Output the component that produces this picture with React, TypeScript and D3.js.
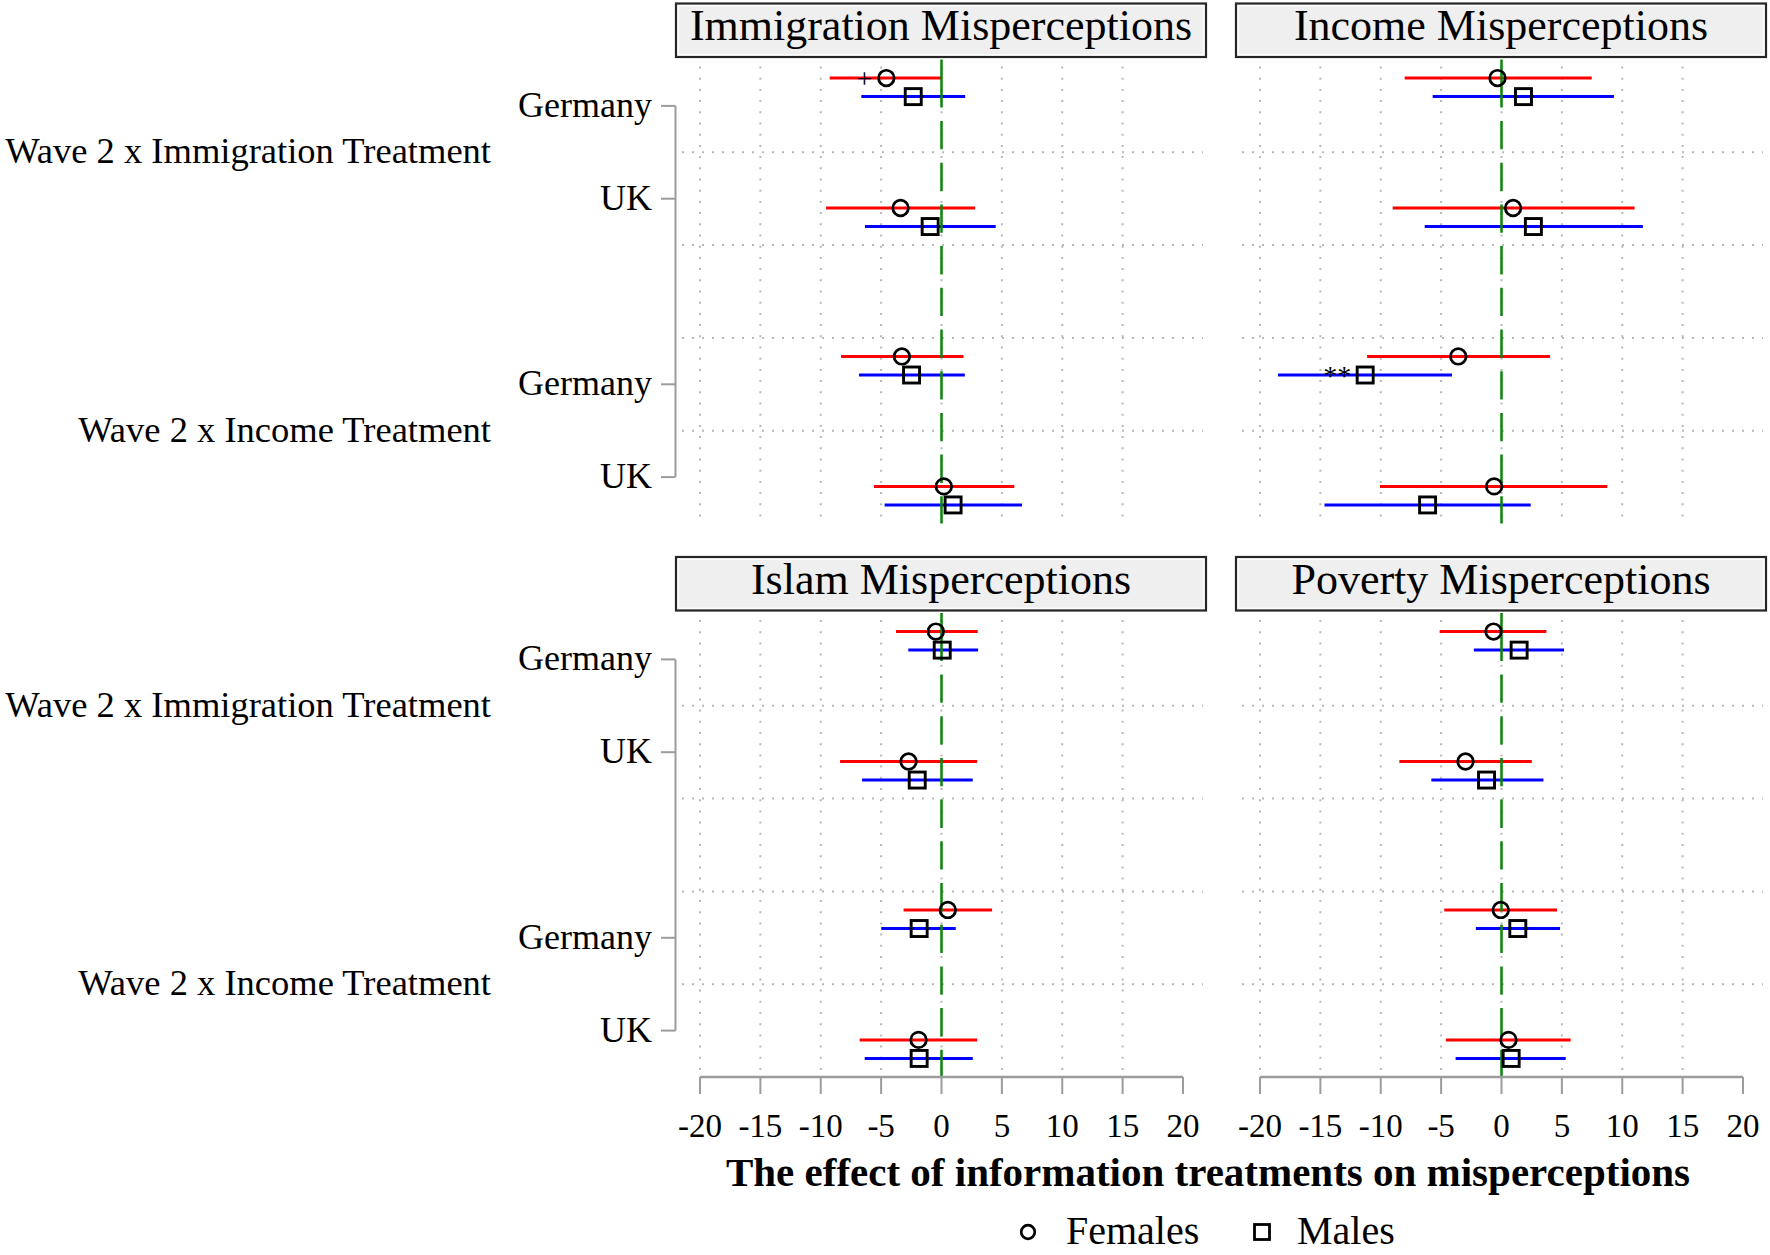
import * as d3 from "d3";
import React from "react";

// panel titles (outcomes), row groups and row labels
const outcomes = [
  "Immigration Misperceptions",
  "Income Misperceptions",
  "Islam Misperceptions",
  "Poverty Misperceptions",
];
const treatments = ["Wave 2 x Immigration Treatment", "Wave 2 x Income Treatment"];
const countries = ["Germany", "UK", "Germany", "UK"];
const xTicks = [-20, -15, -10, -5, 0, 5, 10, 15, 20];

// [estimate, lower, upper] for rows: Imm-Germany, Imm-UK, Inc-Germany, Inc-UK
const immigrationFemales = [[-4.57, -9.26, 0.05], [-3.39, -9.56, 2.78], [-3.28, -8.32, 1.82], [0.19, -5.59, 6.03]];
const immigrationMales = [[-2.34, -6.64, 1.96], [-0.94, -6.34, 4.49], [-2.48, -6.83, 1.93], [0.96, -4.71, 6.67]];
const incomeFemales = [[-0.33, -8.02, 7.47], [0.96, -9.01, 11.02], [-3.58, -11.13, 4.02], [-0.61, -10.06, 8.76]];
const incomeMales = [[1.82, -5.7, 9.31], [2.64, -6.36, 11.71], [-11.29, -18.51, -4.1], [-6.12, -14.66, 2.42]];
const islamFemales = [[-0.47, -3.77, 3.0], [-2.73, -8.4, 2.95], [0.52, -3.14, 4.19], [-1.9, -6.78, 2.95]];
const islamMales = [[0.06, -2.75, 3.03], [-2.01, -6.58, 2.59], [-1.85, -4.99, 1.18], [-1.85, -6.36, 2.59]];
const povertyFemales = [[-0.66, -5.12, 3.72], [-2.98, -8.46, 2.51], [-0.06, -4.74, 4.6], [0.58, -4.6, 5.73]];
const povertyMales = [[1.46, -2.29, 5.18], [-1.24, -5.81, 3.47], [1.35, -2.12, 4.85], [0.8, -3.8, 5.32]];

// significance labels
const immigrationFemaleStars = ["+", "", "", ""];
const incomeMaleStars = ["", "", "**", ""];
const noStars = ["", "", "", ""];

const femalesByPanel = [immigrationFemales, incomeFemales, islamFemales, povertyFemales];
const malesByPanel = [immigrationMales, incomeMales, islamMales, povertyMales];
const femaleStarsByPanel = [immigrationFemaleStars, noStars, noStars, noStars];
const maleStarsByPanel = [noStars, incomeMaleStars, noStars, noStars];

// layout
const W = 1770;
const H = 1255;
const FONT = "'Liberation Serif', 'Times New Roman', serif";
const panelX = [676, 1236];
const panelW = 530;
const stripTop = [3.5, 557];
const stripH = 53.5;
const plotH = 464;
const rowSlots = [1, 2, 4, 5];
const femaleOffset = [-0.3, 0.1, -0.3, 0.1];
const maleOffset = [-0.1, 0.3, -0.1, 0.3];
const gridGray = "#b8b8b8";
const axisGray = "#9c9c9c";

const greenDash = [48, 13.5, ...d3.range(10).flatMap(() => [28.3, 13.4])].join(" ");

function Panel({ p }: { p: number }) {
  const col = p % 2;
  const row = Math.floor(p / 2);
  const x0 = panelX[col];
  const sTop = stripTop[row];
  const plotTop = sTop + stripH + 2.5;
  const plotBottom = plotTop + plotH;

  const x = d3.scaleLinear().domain([-20, 20]).range([x0 + 24, x0 + 507]);
  const y = d3.scaleLinear().domain([0.5, 5.5]).range([plotTop, plotBottom]);

  const series = [
    { data: femalesByPanel[p], off: femaleOffset, color: "#ff0000", shape: "circle", stars: femaleStarsByPanel[p] },
    { data: malesByPanel[p], off: maleOffset, color: "#0000ff", shape: "square", stars: maleStarsByPanel[p] },
  ];

  return (
    <g>
      {/* strip */}
      <rect x={x0} y={sTop} width={panelW} height={stripH} fill="#efefef" stroke="#262626" strokeWidth={2.2} />
      <rect x={x0 + 2.2} y={sTop + 2.2} width={panelW - 4.4} height={stripH - 4.4} fill="none" stroke="#ffffff" strokeWidth={1.2} />
      <text x={x0 + panelW / 2} y={sTop + 36.5} textAnchor="middle" fontSize={44} fontFamily={FONT} fill="#000">
        {outcomes[p]}
      </text>

      {/* grid */}
      {xTicks.slice(0, -1).map((t) => (
        <line key={"v" + t} x1={x(t)} x2={x(t)} y1={plotTop + 7} y2={plotBottom}
          stroke={gridGray} strokeWidth={2} strokeDasharray="2 9.2" />
      ))}
      {[1.5, 2.5, 3.5, 4.5].map((s) => (
        <line key={"h" + s} x1={x0 + 6} x2={x0 + 527} y1={y(s)} y2={y(s)}
          stroke={gridGray} strokeWidth={2} strokeDasharray="2 8" />
      ))}

      {/* confidence intervals */}
      {series.map((s, si) =>
        s.data.map((d, i) => {
          const yy = y(rowSlots[i] + s.off[i]);
          return (
            <line key={"ci" + si + i} x1={x(d[1])} x2={x(d[2])} y1={yy} y2={yy} stroke={s.color} strokeWidth={3} />
          );
        })
      )}

      {/* zero line */}
      <line x1={x(0)} x2={x(0)} y1={plotTop} y2={plotBottom} stroke="#0a870a" strokeWidth={2.5} strokeDasharray={greenDash} />

      {/* markers */}
      {series.map((s, si) =>
        s.data.map((d, i) => {
          const yy = y(rowSlots[i] + s.off[i]);
          const xx = x(d[0]);
          return (
            <g key={"m" + si + i}>
              {s.shape === "circle" ? (
                <circle cx={xx} cy={yy} r={7.8} fill="none" stroke="#000" strokeWidth={2.7} />
              ) : (
                <rect x={xx - 8} y={yy - 8} width={16} height={16} fill="none" stroke="#000" strokeWidth={2.9} />
              )}
              {s.stars[i] && (
                <text x={xx - 14} y={yy + 10} textAnchor="end" fontSize={28} fontFamily={FONT} fill="#000">
                  {s.stars[i]}
                </text>
              )}
            </g>
          );
        })
      )}

      {/* y axis (left column only) */}
      {col === 0 && (
        <g>
          <line x1={x0 - 0.5} x2={x0 - 0.5} y1={y(rowSlots[0])} y2={y(rowSlots[3])} stroke={axisGray} strokeWidth={2} />
          {rowSlots.map((s, i) => (
            <g key={"yt" + i}>
              <line x1={x0 - 15} x2={x0 - 0.5} y1={y(s)} y2={y(s)} stroke={axisGray} strokeWidth={2} />
              <text x={x0 - 24} y={y(s) + 11} textAnchor="end" fontSize={36} fontFamily={FONT} fill="#000">
                {countries[i]}
              </text>
            </g>
          ))}
          {treatments.map((t, i) => (
            <text key={t} x={491} y={y(i === 0 ? 1.5 : 4.5) + 11} textAnchor="end" fontSize={36.5} fontFamily={FONT} fill="#000">
              {t}
            </text>
          ))}
        </g>
      )}

      {/* x axis (bottom row only) */}
      {row === 1 && (
        <g>
          <line x1={x(-20)} x2={x(20)} y1={plotBottom} y2={plotBottom} stroke={axisGray} strokeWidth={2.5} />
          {xTicks.map((t) => (
            <g key={"xt" + t}>
              <line x1={x(t)} x2={x(t)} y1={plotBottom} y2={plotBottom + 17} stroke={axisGray} strokeWidth={2} />
              <text x={x(t)} y={1137} textAnchor="middle" fontSize={33} fontFamily={FONT} fill="#000">
                {String(t)}
              </text>
            </g>
          ))}
        </g>
      )}
    </g>
  );
}

export default function App() {
  return (
    <svg width={W} height={H} viewBox={`0 0 ${W} ${H}`}
      style={{ position: "absolute", left: 0, top: 0, background: "#fff", display: "block" }}>
      <rect x={0} y={0} width={W} height={H} fill="#fff" />
      {outcomes.map((o, p) => (
        <Panel key={o} p={p} />
      ))}
      <text x={1208} y={1186} textAnchor="middle" fontSize={41} fontWeight="bold" fontFamily={FONT} fill="#000">
        The effect of information treatments on misperceptions
      </text>
      {/* legend */}
      <circle cx={1028} cy={1232} r={6.8} fill="none" stroke="#000" strokeWidth={2.7} />
      <text x={1066} y={1244} fontSize={40} fontFamily={FONT} fill="#000">Females</text>
      <rect x={1254.5} y={1224.5} width={15} height={15} fill="none" stroke="#000" strokeWidth={2.8} />
      <text x={1297} y={1244} fontSize={40} fontFamily={FONT} fill="#000">Males</text>
    </svg>
  );
}
